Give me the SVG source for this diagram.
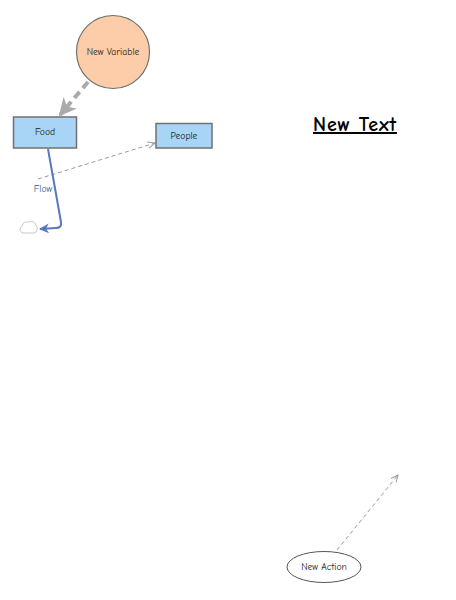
<svg xmlns="http://www.w3.org/2000/svg" width="456" height="600" viewBox="0 0 456 600">
<style>
text{font-family:"Comic Sans MS","Comic Neue","DejaVu Sans","Liberation Sans",sans-serif;fill:#222;}
.lbl{font-size:9.6px;text-anchor:middle;}
.stock{fill:#a8d4f5;stroke:#707070;stroke-width:1.5;}
.link{fill:none;stroke:#999;stroke-width:1;stroke-dasharray:4,3;}
</style>
<defs>
<marker id="ah" viewBox="0 0 10 10" refX="9" refY="5" markerWidth="8" markerHeight="8" orient="auto" markerUnits="userSpaceOnUse">
<path d="M0,1 L9,5 L0,9" fill="none" stroke="#999" stroke-width="1.2"/>
</marker>
<marker id="bigah" viewBox="0 0 10 10" refX="9" refY="5" markerWidth="18" markerHeight="18" orient="auto" markerUnits="userSpaceOnUse">
<path d="M0,0 L10,5 L0,10 L3,5 Z" fill="#aaa"/>
</marker>
<marker id="flowah" viewBox="0 0 10 10" refX="9" refY="5" markerWidth="10" markerHeight="10" orient="auto" markerUnits="userSpaceOnUse">
<path d="M0,0 L10,5 L0,10 L3,5 Z" fill="#5a78be"/>
</marker>
</defs>
<g id="connectors">
<path d="M88,82 L60,115" fill="none" stroke="#aaa" stroke-width="4" stroke-dasharray="8,5" marker-end="url(#bigah)"/>
<path d="M38,179 L155,143" class="link" marker-end="url(#ah)"/>
<path d="M337,550 L398,475" class="link" marker-end="url(#ah)"/>
<path d="M48,149 L61,222 Q62,228 56,228 L40,229" fill="none" stroke="#5a78be" stroke-width="2" marker-end="url(#flowah)"/>
<text x="43" y="192" class="lbl" style="fill:#3a5a9a">Flow</text>
</g>
<g id="new-variable">
<circle cx="113" cy="52" r="36.5" fill="#fdcca8" stroke="#707070" stroke-width="1.2"/>
<text x="113" y="55" class="lbl">New Variable</text>
</g>
<g id="food">
<rect x="13.5" y="117" width="63" height="31" class="stock"/>
<text x="45" y="135" class="lbl">Food</text>
</g>
<g id="people">
<rect x="156" y="123.5" width="56" height="24.5" class="stock"/>
<text x="184" y="139" class="lbl">People</text>
</g>
<g id="cloud">
<path d="M22,233 Q18,229 22,226 Q23,221 29,222 Q34,220 36,225 Q39,229 35,233 Z" fill="#fff" stroke="#bbb" stroke-width="0.8"/>
</g>
<g id="new-text">
<text x="355" y="131" style="font-size:20px;font-weight:bold;letter-spacing:0.8px;text-anchor:middle;fill:#000;text-decoration:underline;">New Text</text>
</g>
<g id="new-action">
<ellipse cx="324" cy="567" rx="37" ry="15.5" fill="#fff" stroke="#555" stroke-width="1"/>
<text x="324" y="570" class="lbl">New Action</text>
</g>
</svg>
